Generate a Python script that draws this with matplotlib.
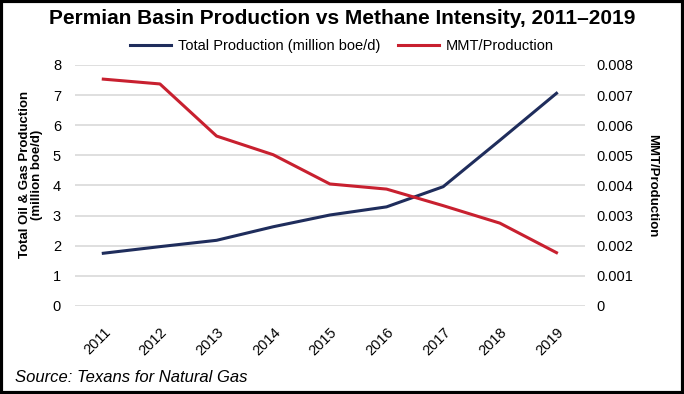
import matplotlib.pyplot as plt
from matplotlib.patches import Rectangle

plt.rcParams["font.family"] = ["Liberation Sans", "DejaVu Sans"]

# --- Data ---
years = ["2011", "2012", "2013", "2014", "2015", "2016", "2017", "2018", "2019"]
total_production = [1.75, 1.97, 2.18, 2.63, 3.02, 3.29, 3.96, 5.50, 7.06]
mmt_per_production = [0.00753, 0.00737, 0.00564, 0.00502, 0.00405, 0.00388, 0.00333, 0.00275, 0.00177]

blue = "#1f2d5c"
red = "#c8202f"

fig = plt.figure(figsize=(6.84, 3.94), dpi=100)
ax = fig.add_axes([0.1096, 0.2234, 0.7454, 0.6117])
ax2 = ax.twinx()

x = range(len(years))
l1, = ax.plot(x, total_production, color=blue, lw=2.2, label="Total Production (million boe/d)")
l2, = ax2.plot(x, mmt_per_production, color=red, lw=2.2, label="MMT/Production")

ax.set_xlim(-0.5, len(years) - 0.5)
ax.set_ylim(0, 8)
ax2.set_ylim(0, 0.008)
ax.set_yticks(range(0, 9))
ax2.set_yticks([i / 1000 for i in range(0, 9)])
ax2.set_yticklabels(["0"] + [f"{i / 1000:.3f}" for i in range(1, 9)])

ax.set_xticks(list(x))
ax.set_xticklabels(years, rotation=45, ha="right", rotation_mode="anchor")

ax.grid(axis="y", color="#d9d9d9", lw=1.2)
ax.set_axisbelow(True)
for a in (ax, ax2):
    for s in a.spines.values():
        s.set_visible(False)
    a.tick_params(length=0, labelsize=10.5, colors="#000000")
ax.tick_params(axis="y", pad=10)
ax2.tick_params(axis="y", pad=8)
ax.tick_params(axis="x", pad=14)

ax.set_ylabel("Total Oil & Gas Production\n(million boe/d)", fontsize=9.5,
              fontweight="bold", linespacing=1.0)
ax.yaxis.set_label_coords(-0.063, 0.545)
ax2.set_ylabel("MMT/Production", fontsize=9.5, fontweight="bold",
               rotation=270, labelpad=18)

fig.text(0.5, 0.954, "Permian Basin Production vs Methane Intensity, 2011\u20132019",
         ha="center", va="center", fontsize=15, fontweight="bold")
fig.legend(handles=[l1, l2], loc="center", bbox_to_anchor=(0.5, 0.882), ncol=2,
           frameon=False, fontsize=10.5, handlelength=2.8, columnspacing=1.2,
           handletextpad=0.5)
fig.text(0.022, 0.043, "Source: Texans for Natural Gas", fontsize=12,
         fontstyle="italic", ha="left", va="center")

# Black frame around the graphic
fig.patches.append(Rectangle((0.002, 0.003), 0.996, 0.994, transform=fig.transFigure,
                             fill=False, edgecolor="black", lw=3))

fig.savefig("out.png", dpi=100)
plt.close(fig)
